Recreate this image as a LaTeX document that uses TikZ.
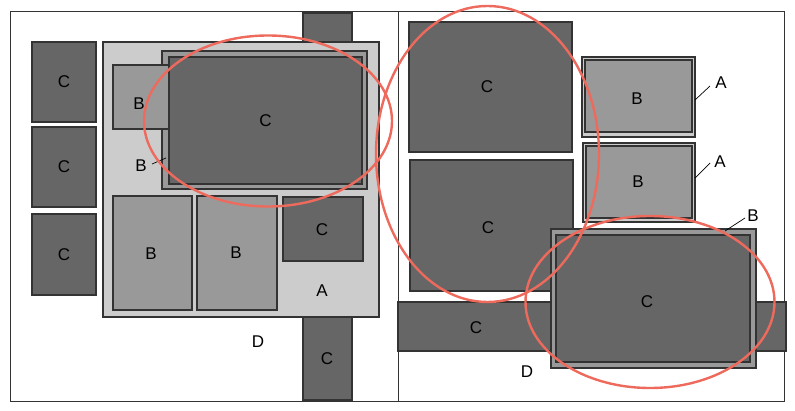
\documentclass[tikz,border=0pt]{standalone}
\usepackage{fontspec}
\setmainfont{Liberation Sans}
\definecolor{dk}{HTML}{666666}
\definecolor{md}{HTML}{999999}
\definecolor{lt}{HTML}{CCCCCC}
\definecolor{edge}{HTML}{333333}
\definecolor{redl}{HTML}{EE6A5C}
\begin{document}
\begin{tikzpicture}[x=1pt,y=-1pt,
  every node/.style={inner sep=0pt,outer sep=0pt,font=\fontsize{17}{19}\selectfont},
  frame/.style={draw=edge,line width=1pt,fill=white},
  cbox/.style={draw=edge,line width=1.1pt,fill=dk},
  bbox/.style={draw=edge,line width=1.1pt,fill=md},
  abox/.style={draw=edge,line width=1.1pt,fill=lt},
  lbl/.style={text=black},
  lead/.style={draw=black,line width=0.7pt},
  ring/.style={draw=redl,line width=2.4pt}]
\useasboundingbox (0,0) rectangle (795,411);
\fill[white] (0,0) rectangle (795,411);
% helper: rectangle node from corners
\newcommand{\rbox}[6]{\node[#1,minimum width={#4-#2},minimum height={#5-#3}] (#6) at ({(#2+#4)/2},{(#3+#5)/2}) {};}
% panels
\rbox{frame}{10}{12}{398}{401}{panelL}
\rbox{frame}{398}{12}{784}{401}{panelR}
% left panel
\rbox{cbox}{303}{13}{352}{400}{barV}
\rbox{abox}{103}{42}{379}{317}{Aleft}
\rbox{cbox}{32}{42}{96}{122}{Ca}
\rbox{cbox}{32}{127}{96}{207}{Cb}
\rbox{cbox}{32}{214}{96}{295}{Cc}
\rbox{bbox}{162}{51}{367}{189}{Bframe}
\rbox{bbox}{113}{65}{169}{129}{Bsmall}
\rbox{cbox}{169}{57}{362}{184}{Cbig}
\rbox{bbox}{113}{196}{192}{310}{Bb1}
\rbox{bbox}{197}{196}{277}{310}{Bb2}
\rbox{cbox}{283}{197}{363}{261}{Cs}
\node[lbl] (tCa) at (Ca) {C};
\node[lbl] (tCb) at (Cb) {C};
\node[lbl] (tCc) at (Cc) {C};
\node[lbl] (tBs) at (139,104) {B};
\node[lbl] (tCbig) at (Cbig) {C};
\node[lbl] (tBb1) at (151,254) {B};
\node[lbl] (tBb2) at (236,253) {B};
\node[lbl] (tCs) at (322,230) {C};
\node[lbl] (tAl) at (322,291) {A};
\node[lbl] (tDl) at (258,342) {D};
\node[lbl] (tCv) at (327,359) {C};
\node[lbl] (tBf) at (141,166) {B};
\coordinate (pBf) at (166,158);
\coordinate (qBf) at (152,164);
\draw[lead] (qBf) -- (pBf);
% right panel
\rbox{cbox}{409}{22}{572}{152}{Ctop}
\rbox{cbox}{410}{160}{573}{291}{Cmid}
\rbox{cbox}{398}{302}{786}{351}{barH}
\rbox{abox}{582}{57}{695}{137}{A1}
\rbox{bbox}{585}{60}{692}{132}{B1}
\rbox{abox}{583}{143}{695}{222}{A2}
\rbox{bbox}{586}{146}{692}{218}{B2}
\rbox{bbox}{551}{229}{756}{368}{Bframe2}
\rbox{cbox}{556}{235}{750}{362}{Cin}
\node[lbl] (tCtop) at (487,87) {C};
\node[lbl] (tCmid) at (488,228) {C};
\node[lbl] (tCh) at (476,328) {C};
\node[lbl] (tB1) at (637,99) {B};
\node[lbl] (tB2) at (638,182) {B};
\node[lbl] (tCin) at (647,302) {C};
\node[lbl] (tA1) at (721,83) {A};
\node[lbl] (tA2) at (720,162) {A};
\node[lbl] (tB3) at (753,216) {B};
\node[lbl] (tDr) at (527,372) {D};
\coordinate (pA1) at (695,100);
\coordinate (qA1) at (710,86);
\coordinate (pA2) at (695,178);
\coordinate (qA2) at (710,163);
\coordinate (pB3) at (725,231);
\coordinate (qB3) at (745,218);
\draw[lead] (pA1) -- (qA1);
\draw[lead] (pA2) -- (qA2);
\draw[lead] (pB3) -- (qB3);
% red rings
\draw[ring] (268,121) ellipse [x radius=124, y radius=85.5];
\draw[ring] (487.5,154) ellipse [x radius=111.5, y radius=148];
\draw[ring] (650,302) ellipse [x radius=124.5, y radius=86];
\end{tikzpicture}
\end{document}
